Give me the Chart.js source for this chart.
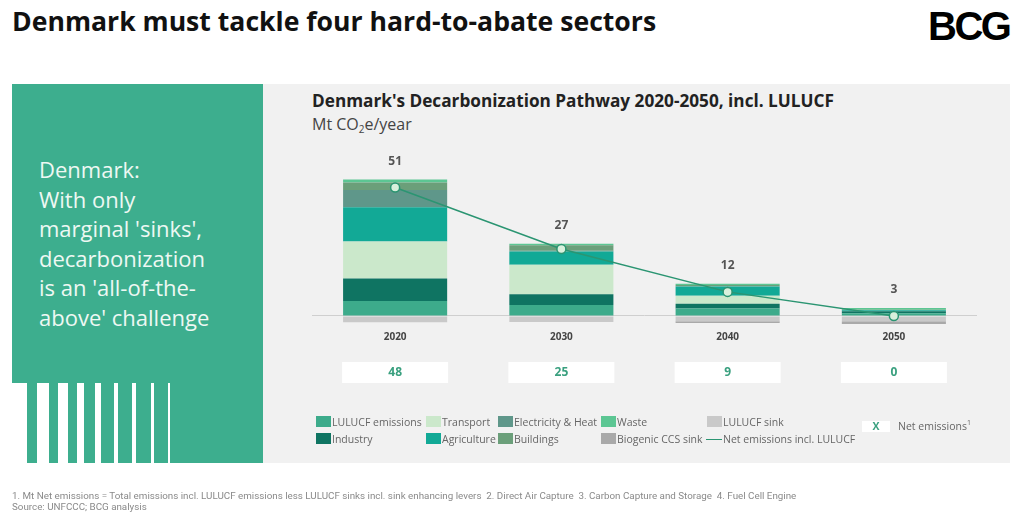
<!DOCTYPE html>
<html>
<head>
<meta charset="utf-8">
<script src="https://cdn.jsdelivr.net/npm/chart.js@4.4.1/dist/chart.umd.min.js"></script>
<style>
  html, body { margin: 0; padding: 0; }
  body {
    width: 1024px; height: 522px; position: relative; overflow: hidden;
    background: #fff; font-family: "Open Sans", sans-serif;
  }
  .abs { position: absolute; }
  .title { left: 12px; top: 3px; font-size: 26.6px; font-weight: 700; color: #111; white-space: nowrap; }
  .logo { left: 928px; top: 4px; font-family: "Liberation Sans", sans-serif; font-weight: 700; font-size: 40px; letter-spacing: -2.5px; color: #000; }
  .panel { left: 263px; top: 84px; width: 747px; height: 379px; background: #f1f1f1; }
  .green { background: #3dae8e; }
  .pitch { left: 39px; top: 155px; color: #eef8f3; font-size: 22px; line-height: 29.5px; }
  .ctitle { left: 312px; top: 89px; font-size: 17.2px; font-weight: 700; color: #222; white-space: nowrap; }
  .csub { left: 312px; top: 113px; font-size: 16px; color: #444; }
  .csub sub { font-size: 10px; vertical-align: -3px; }
  #wrap { left: 0; top: 0; width: 1024px; height: 522px; }
  .leg { font-size: 10.5px; color: #666; white-space: nowrap; height: 12px; line-height: 12px; }
  .sw { display: inline-block; width: 15px; height: 11px; vertical-align: -1px; margin-right: 1px; }
  .ln { display: inline-block; width: 16px; height: 0; border-top: 1.5px solid #2b9572; vertical-align: 3px; margin-right: 1px; }
  .xbox { display: inline-block; width: 28px; height: 11px; background: #fff; color: #3aa07f; font-weight: 700; text-align: center; line-height: 11px; margin-right: 8px; }
  .foot { left: 12px; top: 490px; font-family: Roboto, sans-serif; font-size: 9.8px; line-height: 11px; color: #8a8a8a; white-space: nowrap; }
</style>
</head>
<body>
<div class="abs title">Denmark must tackle four hard-to-abate sectors</div>
<div class="abs logo">BCG</div>
<div class="abs panel"></div>
<div class="abs green" style="left:12px;top:84px;width:251px;height:299px;"></div>
<div id="stripes"></div>
<div class="abs pitch">Denmark:<br>With only<br>marginal 'sinks',<br>decarbonization<br>is an 'all-of-the-<br>above' challenge</div>
<div class="abs ctitle">Denmark's Decarbonization Pathway 2020-2050, incl. LULUCF</div>
<div class="abs csub">Mt CO<sub>2</sub>e/year</div>
<div class="abs" id="wrap"><canvas id="chart" width="1024" height="522"></canvas></div>
<div id="legend"></div>
<div class="abs foot">1. Mt Net emissions = Total emissions incl. LULUCF emissions less LULUCF sinks incl. sink enhancing levers&nbsp; 2. Direct Air Capture&nbsp; 3. Carbon Capture and Storage&nbsp; 4. Fuel Cell Engine<br>Source: UNFCCC; BCG analysis</div>

<script>
// ---- data (Mt CO2e/year) ----
const years = ["2020", "2030", "2040", "2050"];

const lulucfEmissions = [5.6, 4.1, 2.8, 1.0];
const industry        = [8.4, 4.0, 1.8, 0.8];
const transport       = [13.8, 11.0, 3.0, 0];
const agriculture     = [12.8, 5.0, 3.4, 0.3];
const electricityHeat = [6.4, 0.3, 0.1, 0];
const buildings       = [2.8, 2.0, 0.5, 0.2];
const waste           = [1.2, 0.6, 0.4, 0.7];
const lulucfSink      = [-2.3, -2.2, -2.0, -2.0];
const biogenicCcsSink = [0, 0, -0.6, -1.0];

const netEmissions = [48, 25, 9, 0];

// decorative stripes under the green panel (x ranges)
const stripes = [[27, 37], [49, 58], [68, 77], [84, 95], [101, 114], [118, 132], [136, 151], [154, 168], [170, 263]];
stripes.forEach(([a, b]) => {
  const d = document.createElement("div");
  d.className = "abs green";
  d.style.cssText = `left:${a}px;top:382px;width:${b - a}px;height:81px;`;
  document.getElementById("stripes").appendChild(d);
});

const colors = {
  lulucfEm: "#3dab8b",
  industry: "#0f7462",
  transport: "#cbe8cb",
  agriculture: "#12a996",
  elec: "#5f978a",
  buildings: "#6b9f7a",
  waste: "#5cc693",
  lulucfSink: "#c9c9c9",
  ccsSink: "#a9a9a9",
  net: "#2b9572"
};

function bar(label, data, color) {
  return { type: "bar", label, data, backgroundColor: color, borderWidth: 0, order: 1, stack: "s" };
}

const datasets = [
  bar("LULUCF emissions", lulucfEmissions, colors.lulucfEm),
  bar("Industry", industry, colors.industry),
  bar("Transport", transport, colors.transport),
  bar("Agriculture", agriculture, colors.agriculture),
  bar("Electricity & Heat", electricityHeat, colors.elec),
  bar("Buildings", buildings, colors.buildings),
  bar("Waste", waste, colors.waste),
  bar("LULUCF sink", lulucfSink, colors.lulucfSink),
  bar("Biogenic CCS sink", biogenicCcsSink, colors.ccsSink),
  {
    type: "line",
    label: "Net emissions incl. LULUCF",
    data: netEmissions,
    stack: "net",
    order: 0,
    borderColor: colors.net,
    borderWidth: 1.5,
    tension: 0,
    pointRadius: 4.5,
    pointBackgroundColor: "#d8f0dc",
    pointBorderColor: colors.net,
    pointBorderWidth: 1.5
  }
];

// gross totals above bars + net emission boxes below
const labelsPlugin = {
  id: "labels",
  afterDatasetsDraw(chart) {
    const { ctx, scales: { x, y } } = chart;
    ctx.save();
    ctx.textAlign = "center";
    ctx.textBaseline = "middle";
    years.forEach((yr, i) => {
      let total = 0;
      chart.data.datasets.forEach(ds => {
        if (ds.type === "bar" && ds.data[i] > 0) total += ds.data[i];
      });
      const cx = x.getPixelForValue(i);
      ctx.font = "700 12px 'Open Sans'";
      ctx.fillStyle = "#555";
      ctx.fillText(Math.round(total), cx, y.getPixelForValue(total) - 18);

      ctx.fillStyle = "#fff";
      ctx.fillRect(cx - 53, 362, 106, 21);
      ctx.fillStyle = "#3aa07f";
      ctx.fillText(netEmissions[i], cx, 373);
    });
    ctx.restore();
  }
};

new Chart(document.getElementById("chart"), {
  data: { labels: years, datasets },
  options: {
    responsive: false,
    animation: false,
    layout: { padding: { left: 312, right: 47, top: 166, bottom: 175.3 } },
    plugins: { legend: { display: false }, tooltip: { enabled: false } },
    datasets: { bar: { barPercentage: 0.626, categoryPercentage: 1 } },
    scales: {
      x: {
        stacked: true,
        grid: { display: false, drawTicks: false },
        border: { display: false },
        ticks: { padding: 4, color: "#444", font: { family: "Open Sans", size: 10, weight: "700" } },
        afterFit(s) { s.height = 20; }
      },
      y: {
        stacked: true,
        min: -4,
        max: 56,
        border: { display: false },
        grid: {
          drawTicks: false,
          color: c => (c.tick && c.tick.value === 0 ? "#cfcfcf" : "rgba(0,0,0,0)")
        },
        ticks: { display: false, stepSize: 4 },
        afterFit(s) { s.width = 0; }
      }
    }
  },
  plugins: [labelsPlugin]
});

// custom two-row legend
const legendSlots = [
  ["LULUCF emissions", 316, 0], ["Transport", 426, 0], ["Electricity & Heat", 498, 0], ["Waste", 601, 0], ["LULUCF sink", 707, 0],
  ["Industry", 316, 1], ["Agriculture", 426, 1], ["Buildings", 498, 1], ["Biogenic CCS sink", 601, 1], ["Net emissions incl. LULUCF", 706, 1]
];
const legendEl = document.getElementById("legend");
legendSlots.forEach(([label, left, row]) => {
  const ds = datasets.find(d => d.label === label);
  const item = document.createElement("div");
  item.className = "abs leg";
  item.style.left = left + "px";
  item.style.top = (416 + row * 16.5) + "px";
  const mark = ds.type === "line"
    ? '<span class="ln"></span>'
    : `<span class="sw" style="background:${ds.backgroundColor}"></span>`;
  item.innerHTML = mark + label;
  legendEl.appendChild(item);
});
const netItem = document.createElement("div");
netItem.className = "abs leg";
netItem.style.left = "862px";
netItem.style.top = "417px";
netItem.innerHTML = '<span class="xbox">X</span>Net emissions<sup style="font-size:7px">1</sup>';
legendEl.appendChild(netItem);
</script>
</body>
</html>
